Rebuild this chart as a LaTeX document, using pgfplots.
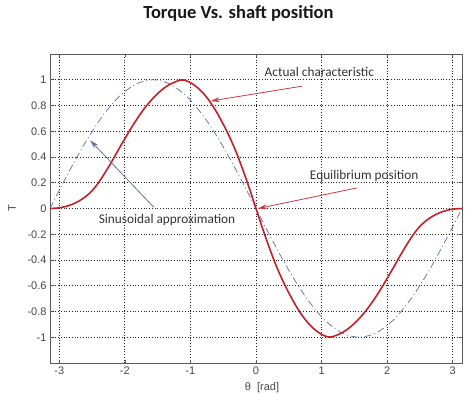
\documentclass[border=0pt]{standalone}
\usepackage{fontspec}
\setmainfont{Liberation Sans}
\newfontfamily\calibri{Carlito}
\usepackage{pgfplots}
\usepackage{pgfplotstable}
\pgfplotsset{compat=1.18}
\usetikzlibrary{arrows.meta}

\definecolor{actual}{RGB}{200,30,38}
\definecolor{approx}{RGB}{95,105,175}
\definecolor{framegray}{RGB}{90,90,90}
\definecolor{ticktext}{RGB}{70,70,70}
\definecolor{redarrow}{RGB}{205,55,65}
\definecolor{bluearrow}{RGB}{100,110,165}

% measured torque characteristic
\pgfplotstableread{
theta T
-3.1416 0.000
-3.0000 0.005
-2.9000 0.016
-2.8000 0.033
-2.7000 0.058
-2.6000 0.092
-2.5000 0.138
-2.4000 0.202
-2.3000 0.280
-2.2000 0.365
-2.1000 0.455
-2.0000 0.543
-1.9000 0.628
-1.8000 0.707
-1.7000 0.778
-1.6000 0.840
-1.5000 0.893
-1.4000 0.936
-1.3000 0.968
-1.2000 0.990
-1.1500 0.998
-1.1000 0.998
-1.0000 0.978
-0.9000 0.942
-0.8000 0.893
-0.7000 0.828
-0.6000 0.748
-0.5000 0.655
-0.4000 0.552
-0.3000 0.435
-0.2000 0.300
-0.1000 0.155
0.0000 0.000
0.1000 -0.155
0.2000 -0.300
0.3000 -0.435
0.4000 -0.552
0.5000 -0.655
0.6000 -0.748
0.7000 -0.828
0.8000 -0.893
0.9000 -0.942
1.0000 -0.978
1.1000 -0.998
1.1500 -0.998
1.2000 -0.990
1.3000 -0.968
1.4000 -0.936
1.5000 -0.893
1.6000 -0.840
1.7000 -0.778
1.8000 -0.707
1.9000 -0.628
2.0000 -0.543
2.1000 -0.455
2.2000 -0.365
2.3000 -0.280
2.4000 -0.202
2.5000 -0.138
2.6000 -0.092
2.7000 -0.058
2.8000 -0.033
2.9000 -0.016
3.0000 -0.005
3.1416 0.000
}\actualdata

% sinusoidal approximation
\pgfplotstableread{
theta T
-3.1416 0.0000
-2.8798 0.2588
-2.6180 0.5000
-2.3562 0.7071
-2.0944 0.8660
-1.8326 0.9659
-1.5708 1.0000
-1.3090 0.9659
-1.0472 0.8660
-0.7854 0.7071
-0.5236 0.5000
-0.2618 0.2588
0.0000 0.0000
0.2618 -0.2588
0.5236 -0.5000
0.7854 -0.7071
1.0472 -0.8660
1.3090 -0.9659
1.5708 -1.0000
1.8326 -0.9659
2.0944 -0.8660
2.3562 -0.7071
2.6180 -0.5000
2.8798 -0.2588
3.1416 0.0000
}\approxdata

\begin{document}
\begin{tikzpicture}
\begin{axis}[
  scale only axis,
  width=412pt, height=309pt,
  xmin=-3.14159, xmax=3.14159,
  ymin=-1.2, ymax=1.2,
  xtick={-3,-2,-1,0,1,2,3},
  ytick={-1,-0.8,-0.6,-0.4,-0.2,0,0.2,0.4,0.6,0.8,1},
  grid=major,
  major grid style={black!85, line width=0.75pt, dash pattern=on 0.75pt off 2pt},
  axis line style={framegray, line width=0.8pt},
  tick style={framegray, line width=0.6pt},
  tick align=inside,
  major tick length=3pt,
  ticklabel style={font=\fontsize{11}{13}\selectfont, text=ticktext},
  /pgf/number format/assume math mode=true,
  clip=false,
]
\addplot[approx, line width=0.7pt, dash pattern=on 7pt off 3pt on 1pt off 3pt, smooth] table[x=theta, y=T] {\approxdata};
\addplot[actual, line width=1.6pt, smooth] table[x=theta, y=T] {\actualdata};

% annotations
\draw[redarrow, line width=0.8pt, -{Stealth[length=9pt,width=5pt]}]
  (axis cs:0.70,0.95) -- (axis cs:-0.69,0.835);
\node[anchor=west, inner sep=0pt, font=\calibri\fontsize{13.3}{15}\selectfont, text=black!80]
  at (axis cs:0.13,1.06) {Actual characteristic};

\draw[redarrow, line width=0.8pt, -{Stealth[length=9pt,width=5pt]}]
  (axis cs:1.54,0.16) -- (axis cs:0.03,0.0);
\node[anchor=west, inner sep=0pt, font=\calibri\fontsize{13.3}{15}\selectfont, text=black!80]
  at (axis cs:0.82,0.25) {Equilibrium position};

\draw[bluearrow, line width=0.8pt, -{Stealth[length=9pt,width=5pt]}]
  (axis cs:-1.56,0.01) -- (axis cs:-2.53,0.53);
\node[anchor=west, inner sep=0pt, font=\calibri\fontsize{13.3}{15}\selectfont, text=black!80]
  at (axis cs:-2.40,-0.09) {Sinusoidal approximation};

% title and axis labels
\node[font=\calibri\bfseries\fontsize{18.5}{22}\selectfont, text=black!90]
  at ([yshift=41pt, xshift=-17.5pt]rel axis cs:0.5,1) {Torque Vs. shaft position};
\node[font=\fontsize{11}{13}\selectfont, text=ticktext]
  at ([yshift=-25pt, xshift=6pt]rel axis cs:0.5,0) {θ\ \ [rad]};
\node[rotate=90, font=\fontsize{11}{13}\selectfont, text=ticktext]
  at ([xshift=-38pt]rel axis cs:0,0.5) {T};
\end{axis}
\path ([xshift=-50pt,yshift=-39pt]current axis.south west)
  rectangle ([xshift=12pt,yshift=54pt]current axis.north east);
\end{tikzpicture}
\end{document}
